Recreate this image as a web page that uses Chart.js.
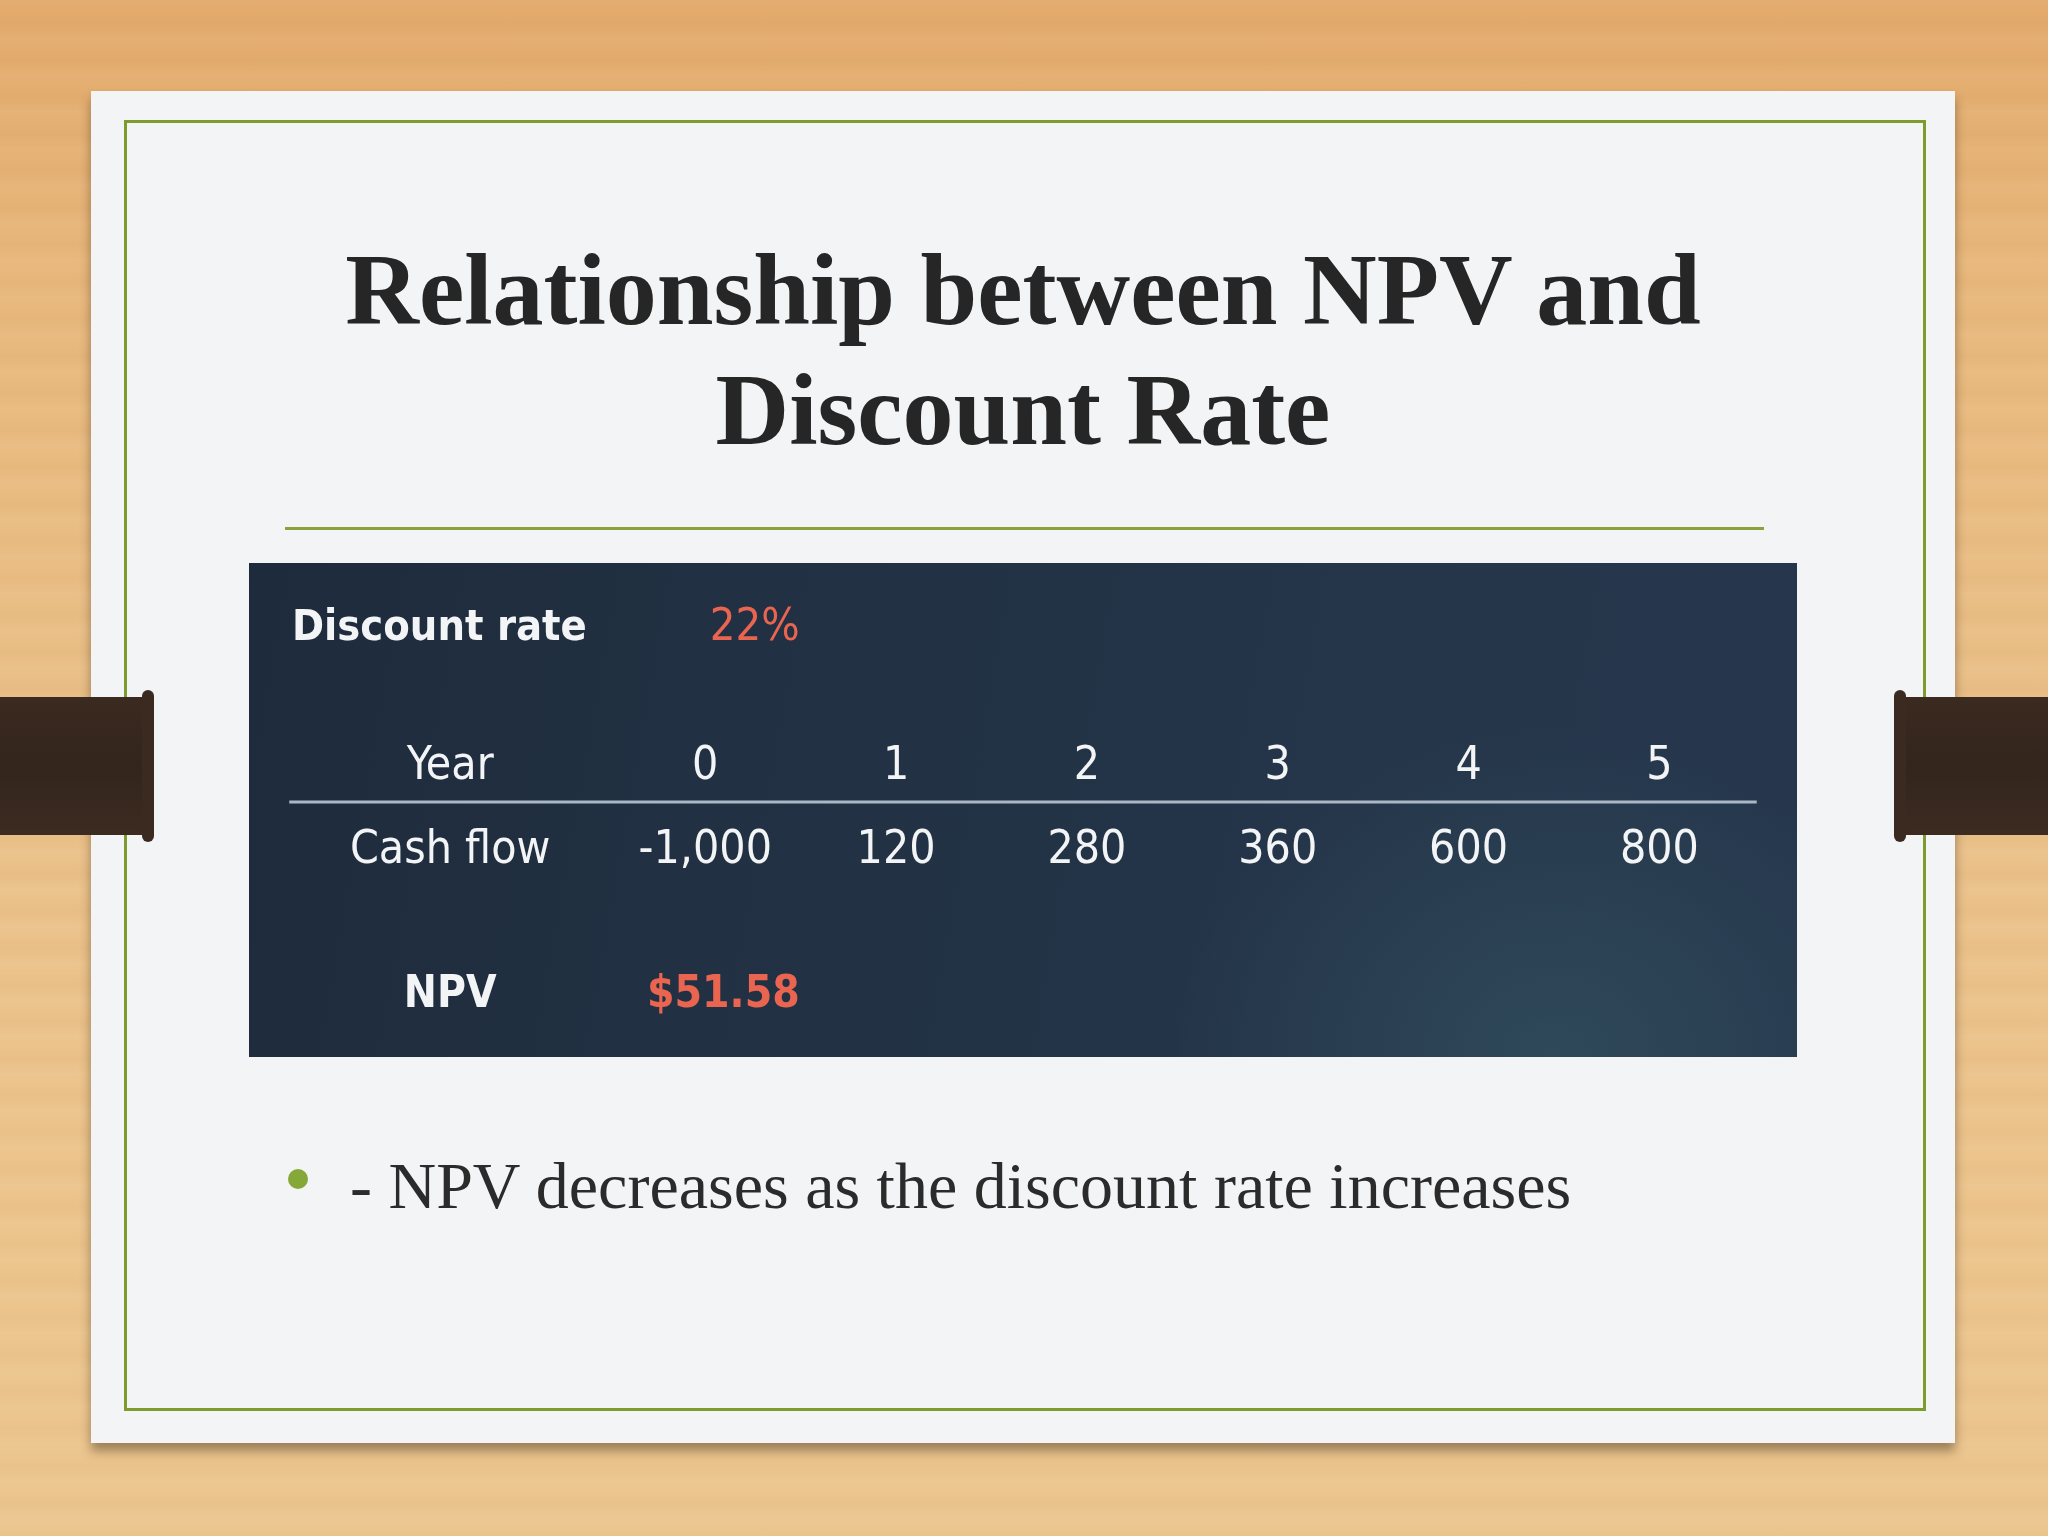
<!DOCTYPE html>
<html>
<head>
<meta charset="utf-8">
<script src="https://cdn.jsdelivr.net/npm/chart.js@4.4.1/dist/chart.umd.min.js"></script>
<style>
  html,body{margin:0;padding:0;width:2048px;height:1536px;overflow:hidden;}
  body{
    position:relative;
    background:
      repeating-linear-gradient(180deg, rgba(255,255,255,0.035) 0px, rgba(255,255,255,0.0) 11px, rgba(150,90,30,0.035) 23px, rgba(255,255,255,0.02) 37px),
      linear-gradient(180deg, #e3aa6c 0%, #e8b87c 18%, #eac088 45%, #ecc48c 75%, #ecc68f 100%);
  }
  .card{position:absolute;left:91px;top:91px;width:1864px;height:1352px;background:#f3f4f5;
        box-shadow:0 8px 10px rgba(60,40,20,0.45);}
  .frame{position:absolute;left:124px;top:120px;width:1796px;height:1285px;border:3px solid #7d9c2d;}
  .title{position:absolute;left:91px;width:1864px;top:230px;text-align:center;
         font-family:'Liberation Serif','DejaVu Serif',serif;font-weight:bold;font-size:102px;line-height:120px;color:#262626;}
  .rule{position:absolute;left:285px;top:527px;width:1479px;height:3px;background:#8aa23a;}
  .table{position:absolute;left:249px;top:563px;width:1548px;height:494px;
         background:
           radial-gradient(ellipse 380px 330px at 84% 100%, rgba(62,104,112,0.38), rgba(62,104,112,0) 100%),
           linear-gradient(100deg, #1e2b3c 0%, #223244 40%, #25354a 70%, #26374d 100%);}
  .bullet{position:absolute;left:288px;top:1169px;width:20px;height:20px;border-radius:50%;background:#86a838;}
  .btext{position:absolute;left:350px;top:1153px;font-family:'Liberation Serif','DejaVu Serif',serif;
         font-size:66px;line-height:66px;color:#2b2b2b;white-space:nowrap;}
  .tab{position:absolute;top:697px;height:138px;background:linear-gradient(180deg,#3a2a20,#34251c 50%,#3b2b21);}
  .tabL{left:0;width:148px;}
  .tabR{left:1900px;width:148px;}
  .capL{position:absolute;left:142px;top:690px;width:12px;height:152px;border-radius:6px;background:#3a2a20;}
  .capR{position:absolute;left:1894px;top:690px;width:12px;height:152px;border-radius:6px;background:#3a2a20;}
</style>
</head>
<body>
<div class="card"></div>
<div class="frame"></div>
<div class="title">Relationship between NPV and<br>Discount Rate</div>
<div class="rule"></div>
<div class="table"><canvas id="c"></canvas></div>
<div class="bullet"></div>
<div class="btext">- NPV decreases as the discount rate increases</div>
<div class="tab tabL"></div><div class="capL"></div>
<div class="tab tabR"></div><div class="capR"></div>

<script>
// ---- data ----
const years = [0, 1, 2, 3, 4, 5];
const cashFlows = [-1000, 120, 280, 360, 600, 800];
const discountRateLabel = 'Discount rate';
const discountRatePct = 22;
const rowLabels = ['Year', 'Cash flow', 'NPV'];
const npvValue = 51.58;

// ---- layout (scale units; y = text baselines) ----
const ROW = { rate: 77, year: 216, rule: 239, cash: 300, npv: 444 };
const COL = { label: -1.337, rateLeft: -2.166, valueRight: 0.495, ruleStart: -2.18, ruleEnd: 5.51 };
const FONT = "'DejaVu Sans Condensed','DejaVu Sans',sans-serif";
const WHITE = '#f2f4f6', RED = '#ea6550';

const tablePlugin = {
  id: 'tableText',
  afterDatasetsDraw(chart) {
    const { ctx, scales: { x, y } } = chart;
    ctx.save();
    // rule under the header
    ctx.strokeStyle = '#a9b7c6';
    ctx.lineWidth = 3;
    ctx.beginPath();
    ctx.moveTo(x.getPixelForValue(COL.ruleStart), y.getPixelForValue(ROW.rule));
    ctx.lineTo(x.getPixelForValue(COL.ruleEnd), y.getPixelForValue(ROW.rule));
    ctx.stroke();

    ctx.textBaseline = 'alphabetic';
    // discount rate row
    ctx.fillStyle = WHITE;
    ctx.textAlign = 'left';
    ctx.font = 'bold 43px ' + FONT;
    ctx.fillText(discountRateLabel, x.getPixelForValue(COL.rateLeft), y.getPixelForValue(ROW.rate));
    ctx.fillStyle = RED;
    ctx.textAlign = 'right';
    ctx.font = '45px ' + FONT;
    ctx.fillText(discountRatePct + '%', x.getPixelForValue(COL.valueRight), y.getPixelForValue(ROW.rate));

    // row labels
    ctx.textAlign = 'center';
    ctx.fillStyle = WHITE;
    ctx.font = '46px ' + FONT;
    ctx.fillText(rowLabels[0], x.getPixelForValue(COL.label), y.getPixelForValue(ROW.year));
    ctx.fillText(rowLabels[1], x.getPixelForValue(COL.label), y.getPixelForValue(ROW.cash));
    ctx.font = 'bold 44px ' + FONT;
    ctx.fillText(rowLabels[2], x.getPixelForValue(COL.label), y.getPixelForValue(ROW.npv));

    // cells from the dataset elements
    ctx.font = '46px ' + FONT;
    chart.data.datasets.forEach((ds, di) => {
      const meta = chart.getDatasetMeta(di);
      meta.data.forEach((el, i) => {
        ctx.fillStyle = WHITE;
        ctx.textAlign = 'center';
        ctx.fillText(ds.data[i].t, el.x, el.y);
      });
    });

    // NPV value
    ctx.fillStyle = RED;
    ctx.textAlign = 'right';
    ctx.font = 'bold 44px ' + FONT;
    ctx.fillText('$' + npvValue.toFixed(2), x.getPixelForValue(COL.valueRight), y.getPixelForValue(ROW.npv));
    ctx.restore();
  }
};

new Chart(document.getElementById('c'), {
  type: 'scatter',
  data: {
    datasets: [
      { label: rowLabels[0], data: years.map(yr => ({ x: yr, y: ROW.year, t: String(yr) })), pointRadius: 0 },
      { label: rowLabels[1], data: years.map((yr, i) => ({ x: yr, y: ROW.cash, t: cashFlows[i].toLocaleString('en-US') })), pointRadius: 0 }
    ]
  },
  options: {
    responsive: true,
    maintainAspectRatio: false,
    animation: false,
    layout: { padding: 0 },
    plugins: { legend: { display: false }, tooltip: { enabled: false } },
    scales: {
      x: { type: 'linear', display: false, min: -2.391, max: 5.721 },
      y: { type: 'linear', display: false, min: 0, max: 494, reverse: true }
    }
  },
  plugins: [tablePlugin]
});
</script>
</body>
</html>
